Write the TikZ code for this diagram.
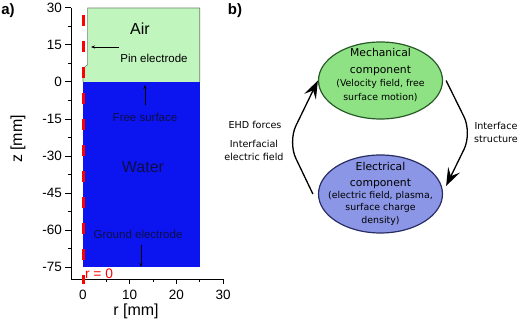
\documentclass[tikz,border=0pt]{standalone}
\usepackage{fontspec}
\setmainfont{Liberation Sans}
\newfontfamily\dejavu{DejaVu Sans}
\usetikzlibrary{arrows.meta, positioning, shapes.geometric, calc}

\definecolor{airgreen}{RGB}{193,245,190}
\definecolor{airline}{RGB}{110,130,110}
\definecolor{watblue}{RGB}{12,20,240}
\definecolor{navytext}{RGB}{14,14,70}
\definecolor{mechgreen}{RGB}{142,226,132}
\definecolor{mechline}{RGB}{40,90,40}
\definecolor{elecblue}{RGB}{140,150,230}
\definecolor{elecline}{RGB}{40,45,100}

\begin{document}
\begin{tikzpicture}[x=1pt, y=1pt,
    note/.style={font=\fontsize{11.5}{13}\selectfont, inner sep=0pt},
    big/.style={font=\fontsize{16}{18}\selectfont, inner sep=0pt},
    ticklab/.style={font=\fontsize{13.5}{15}\selectfont, inner sep=0pt},
    pointer/.style={-{Stealth[length=4pt,width=3pt]}, line width=0.6pt},
    comp/.style={ellipse, draw, line width=1.2pt, minimum width=124pt, minimum height=77pt, inner sep=0pt},
    comptext/.style={inner sep=0pt, align=center, font=\dejavu\fontsize{10.8}{16}\selectfont},
    loop/.style={line width=1.3pt, rounded corners=18pt, -{Stealth[length=18pt,width=13pt,inset=7pt]}},
    side/.style={font=\dejavu\fontsize{9.6}{13}\selectfont, align=center, inner sep=0pt}
  ]
  \useasboundingbox (0,0) rectangle (520,324);

  \node[font=\bfseries\fontsize{15}{15}\selectfont, inner sep=0pt] (lbla) at (8,313) {a)};
  \node[font=\bfseries\fontsize{15}{15}\selectfont, inner sep=0pt] (lblb) at (235,313) {b)};

  \begin{scope}[shift={(83pt,242pt)}, x=4.67pt, y=2.467pt]
    \fill[airgreen] (1,30) -- (25,30) -- (25,0) -- (0,0) -- (0,5.5) -- (1,7) -- cycle;
    \draw[airline, line width=0.6pt] (0,0) -- (0,5.5) -- (1,7) -- (1,30) -- (25,30) -- (25,0);
    \fill[watblue] (0,0) rectangle (25,-75);
    \draw[line width=1pt] (-2.5,30) -- (-2.5,-80) -- (30,-80);
    \foreach \z in {-75,-60,...,30}
      \draw[line width=1pt] (-2.5,\z) -- ++(-6pt,0) node[ticklab, left=3pt] {\z};
    \foreach \z in {-67.5,-52.5,...,22.5}
      \draw[line width=1pt] (-2.5,\z) -- ++(-3pt,0);
    \foreach \r in {0,10,20,30}
      \draw[line width=1pt] (\r,-80) -- ++(0,-5pt) node[ticklab, below=5pt] {\r};
    \foreach \r in {5,15,25}
      \draw[line width=1pt] (\r,-80) -- ++(0,-3pt);
    \draw[red, line width=3pt, dash pattern=on 11pt off 15pt] (0,27) -- (0,-82);
  \end{scope}

  \node[big, rotate=90] (zlab) at (18,185) {z [mm]};
  \node[big] (rlab) at (136,13) {r [mm]};

  \node[big] (air) at (140,295) {Air};
  \node[note] (pin) at (154,266) {Pin electrode};
  \node[note, text=navytext] (free) at (145,207) {Free surface};
  \node[big, text=navytext] (water) at (143,157) {Water};
  \node[note, text=navytext] (ground) at (138,90) {Ground electrode};
  \node[red, font=\fontsize{13.8}{15}\selectfont, inner sep=0pt] (rzero) at (99,50) {r = 0};

  \coordinate (pinfrom) at (119,277);
  \coordinate (pinto) at (91,277);
  \coordinate (freefrom) at (145,219);
  \coordinate (freeto) at (145,239);
  \coordinate (groundfrom) at (141,79);
  \coordinate (groundto) at (141,57);
  \draw[pointer] (pinfrom) -- (pinto);
  \draw[pointer] (freefrom) -- (freeto);
  \draw[pointer] (groundfrom) -- (groundto);

  \node[comp, fill=mechgreen, draw=mechline] (mech) at (380.5,243.5) {};
  \node[comp, fill=elecblue, draw=elecline, minimum height=78pt] (elec) at (380.5,130) {};
  \node[comptext, font=\dejavu\fontsize{10.8}{17}\selectfont] (mechtext) at ([yshift=5pt]mech.center) {%
    Mechanical\\component\\[-4pt]
    {\fontsize{9.4}{13}\selectfont (Velocity field, free}\\[-3pt]
    {\fontsize{9.4}{13}\selectfont surface motion)}};
  \node[comptext] (electext) at ([yshift=0pt]elec.center) {%
    Electrical\\component\\[-4pt]
    {\fontsize{9.4}{13}\selectfont (electric field, plasma,}\\[-4pt]
    {\fontsize{9.4}{13}\selectfont surface charge}\\[-3pt]
    {\fontsize{9.4}{13}\selectfont density)}};

  \node[side] (ehd) at (255,199) {EHD forces};
  \node[side] (field) at (254,174) {Interfacial\\electric field};
  \node[side] (struct) at (496,192) {Interface\\structure};

  \coordinate (bendL) at (288,182);
  \coordinate (bendR) at (472,191);
  \draw[loop] ([xshift=-5pt]elec.west) -- (bendL) -- (mech.west);
  \draw[loop] ([xshift=3pt]mech.east) -- (bendR) -- ([shift={(3pt,8pt)}]elec.east);
\end{tikzpicture}
\end{document}
